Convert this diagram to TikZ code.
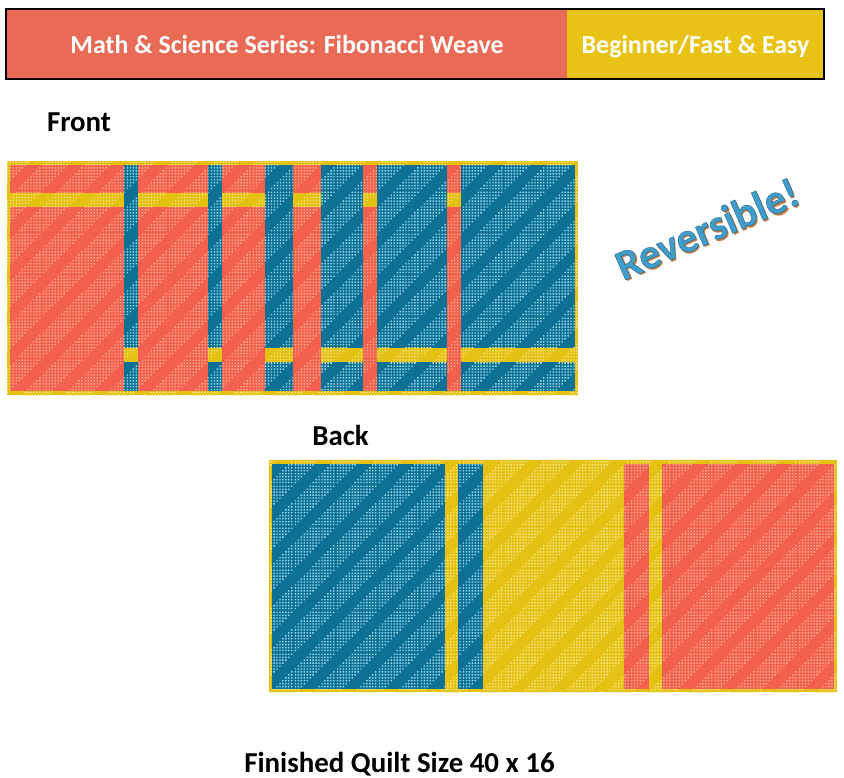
\documentclass[tikz,border=0pt]{standalone}
\usepackage{fontspec}
\setmainfont{Carlito}
\usetikzlibrary{patterns}
\definecolor{qred}{HTML}{F4604F}
\definecolor{qblue}{HTML}{0D7196}
\definecolor{qyel}{HTML}{E5C113}
\definecolor{tred}{HTML}{F7AC85}
\definecolor{tblue}{HTML}{9ADCEB}
\definecolor{tyel}{HTML}{F6E688}
\definecolor{hred}{HTML}{E96A55}
\definecolor{hyel}{HTML}{E8C316}
\definecolor{revshadow}{HTML}{C47A45}
\pgfdeclarepatternformonly{stripedots}{\pgfqpoint{0pt}{0pt}}{\pgfpoint{42bp}{42bp}}{\pgfpoint{42bp}{42bp}}{%
  \foreach \i in {0,...,13}{\foreach \j in {0,...,13}{%
    \pgfmathtruncatemacro{\k}{mod(\i-\j+22,14)}%
    \ifnum\k<9
      \pgfpathrectangle{\pgfpoint{3*\i*1bp+0.8bp}{3*\j*1bp+0.8bp}}{\pgfpoint{1.4bp}{1.4bp}}%
    \fi
  }}%
  \pgfusepath{fill}%
}
\tikzset{
  head text/.style={font=\fontsize{26}{30}\selectfont\bfseries,inner sep=0pt,anchor=base,text=white},
  label text/.style={font=\fontsize{29}{33}\selectfont\bfseries,inner sep=0pt,anchor=base},
  rev text/.style={font=\fontsize{42.5}{48}\selectfont\bfseries,rotate=23.5,inner sep=0pt},
}
\newcommand{\quiltpiece}[5]{%
  \fill[q#5] (#1,#2) rectangle (#3,#4);
  \fill[pattern=stripedots,pattern color=t#5] (#1,#2) rectangle (#3,#4);
}
\begin{document}
\begin{tikzpicture}[x=1bp,y=-1bp]
\useasboundingbox (0,0) rectangle (844,778);
% header
\fill[hred] (6,9) rectangle (567,79);
\fill[hyel] (567,9) rectangle (824,79);
\draw[black,line width=1.6bp] (6,9) rectangle (824,79);
\node[head text] (title) at (287,53.5) {Math \& Science Series: Fibonacci Weave};
\node[head text] (level) at (695.5,53.5) {Beginner/Fast \& Easy};
\node[label text] (front) at (79,131) {Front};
\node[label text] (back) at (340.5,445.5) {Back};
\node[label text] (size) at (399.5,772) {Finished Quilt Size 40 x 16};
% front quilt
\quiltpiece{7}{161}{578}{395}{yel}
\foreach \a/\b in {10/123.5,138/208,222/264.5,292.5/320.5,363/377,447/461}
  {\quiltpiece{\a}{165}{\b}{391}{red}}
\foreach \a/\b in {123.5/138,208/222,264.5/292.5,320.5/363,377/447,461/575}
  {\quiltpiece{\a}{165}{\b}{391}{blue}}
\foreach \a/\b in {7/123.5,138/208,222/264.5,292.5/320.5,363/377,447/461}
  {\quiltpiece{\a}{192.7}{\b}{206.7}{yel}}
\foreach \a/\b in {123.5/138,208/222,264.5/292.5,320.5/363,377/447,461/578}
  {\quiltpiece{\a}{347.7}{\b}{362.3}{yel}}
% back quilt
\quiltpiece{269}{460}{837}{692}{yel}
\quiltpiece{272}{463.5}{445}{688.5}{blue}
\quiltpiece{458}{463.5}{483}{688.5}{blue}
\quiltpiece{624}{463.5}{649}{688.5}{red}
\quiltpiece{662}{463.5}{834}{688.5}{red}
% reversible
\node[rev text,text=revshadow] (revshade) at (709,230.5) {Reversible!};
\node[rev text] (rev) at (707,228.5)
  {\special{pdf:bcolor [0.247 0.616 0.796] [0.15 0.38 0.50]}\addfontfeature{FakeBold=0.8}Reversible!\special{pdf:ecolor}};
\end{tikzpicture}
\end{document}
